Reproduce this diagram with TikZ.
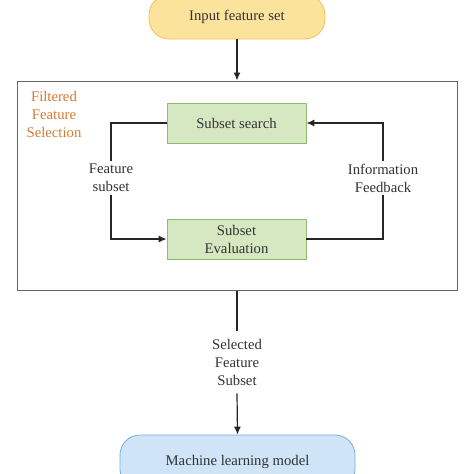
\documentclass[tikz,border=0pt]{standalone}
\usepackage{fontspec}
\setmainfont{Liberation Serif}
\usetikzlibrary{arrows.meta}
\definecolor{pillY}{HTML}{FBE39C}
\definecolor{pillYb}{HTML}{EFC25A}
\definecolor{boxG}{HTML}{D6E8C2}
\definecolor{boxGb}{HTML}{8FB870}
\definecolor{pillB}{HTML}{CFE4F6}
\definecolor{pillBb}{HTML}{7AAEDC}
\definecolor{orangeT}{HTML}{D87A30}
\definecolor{txt}{HTML}{333333}
\tikzset{
  pill/.style={draw, line width=0.8pt, rounded corners=20pt, minimum height=44pt, text=txt, font=\fontsize{14.7}{18}\selectfont},
  gbox/.style={draw=boxGb, fill=boxG, line width=0.8pt, minimum width=139pt, minimum height=40pt, text=txt, align=center, font=\fontsize{14.7}{18}\selectfont},
  lbl/.style={text=txt, align=center, font=\fontsize{14.7}{18}\selectfont, inner sep=3pt},
  conn/.style={line width=1.2pt, draw=black!85, -{Latex[length=8pt,width=7pt]}},
  plain/.style={line width=1.2pt, draw=black!85}
}
\begin{document}
\begin{tikzpicture}[x=1pt,y=-1pt]
\useasboundingbox (0,0) rectangle (474,474);
\clip (0,0) rectangle (474,474);
\fill[white] (0,0) rectangle (474,474);
% big frame
\node[draw=black!60, line width=1pt, minimum width=440pt, minimum height=209pt, inner sep=0pt] (frame) at (237,185.5) {};
\node[text=orangeT, align=center, font=\fontsize{14.7}{18}\selectfont, inner sep=0pt] (ffs) at (54,114) {Filtered\\Feature\\Selection};
% pills
\node[pill, draw=pillYb, fill=pillY, minimum width=176pt, inner sep=0pt] (input) at (237,17) {Input feature set};
\node[pill, draw=pillBb, fill=pillB, minimum width=235pt, inner sep=0pt, minimum height=54pt] (ml) at (237.5,462) {Machine learning model};
% green boxes
\node[gbox] (search) at (236.5,123) {Subset search};
\node[gbox] (eval) at (236.5,239) {Subset\\Evaluation};
% side labels
\node[lbl] (fs) at (111,178) {Feature\\subset};
\node[lbl] (inf) at (383,178) {Information\\Feedback};
\node[lbl, inner sep=8pt] (sfs) at (237,362) {Selected\\Feature\\Subset};
% connectors
\draw[conn] (input.south) -- (frame.north);
\draw[plain] (search.west) -| (fs.north);
\draw[conn] (fs.south) |- (eval.west);
\draw[plain] (eval.east) -| (inf.south);
\draw[conn] (inf.north) |- (search.east);
\draw[plain] (frame.south) -- (sfs.north);
\draw[conn] (sfs.south) -- (ml.north);
\end{tikzpicture}
\end{document}
